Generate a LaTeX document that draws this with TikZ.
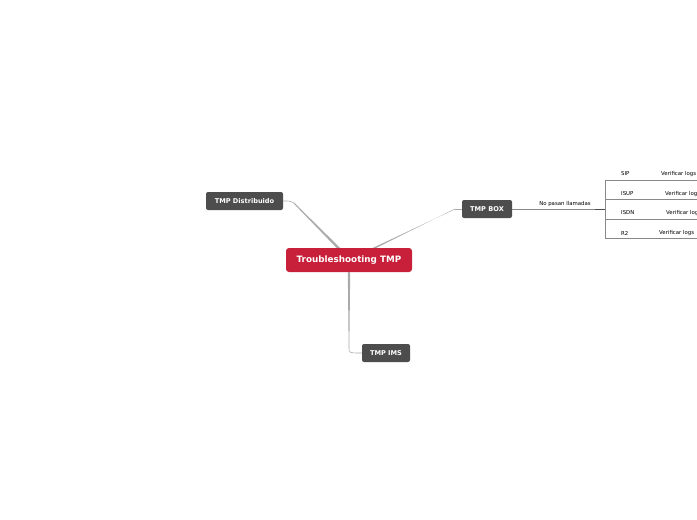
\documentclass[tikz,border=0pt]{standalone}
\usepackage{fontspec}
\setmainfont{DejaVu Sans}
\begin{document}
\begin{tikzpicture}[x=1pt,y=-1pt,
  topic/.style={fill=topicgray,text=white,rounded corners=2pt,inner sep=0pt,font=\fontsize{6.6}{7}\selectfont\bfseries,minimum height=18pt},
  root/.style={fill=rootred,text=white,rounded corners=3pt,inner sep=0pt,font=\fontsize{8.8}{9}\selectfont\bfseries,minimum height=24pt,minimum width=126pt},
  conn/.style={draw=linegray,line width=0.9pt},
  thinline/.style={draw=linegray!80!black,line width=0.5pt},
  small/.style={inner sep=0pt,font=\fontsize{5.4}{6}\selectfont,anchor=west,text=black}
]
\definecolor{topicgray}{HTML}{4D4D4D}
\definecolor{rootred}{HTML}{C8203A}
\definecolor{linegray}{HTML}{AAAAAA}
\useasboundingbox (0,0) rectangle (697,520);
\fill[white] (0,0) rectangle (697,520);

\node[root] (c) at (349,260) {\raisebox{-0.5pt}{Troubleshooting TMP}};
\node[topic,minimum width=77pt] (d) at (244.5,201) {TMP Distribuido};
\node[topic,minimum width=50pt] (b) at (487,209) {TMP BOX};
\node[topic,minimum width=48pt] (i) at (386,353) {TMP IMS};

% tapered main connectors
\fill[linegray] ([xshift=-12.5pt]c.north) -- (293.6,203.4) -- (294.3,202.8) -- ([xshift=-9pt]c.north) -- cycle;
\draw[conn,line width=0.6pt] (294,203) .. controls (290,201) .. (d.east);
\fill[linegray] ([xshift=24pt]c.north) -- (455,209.3) -- (455,208.7) -- ([xshift=27.5pt]c.north) -- cycle;
\draw[conn,line width=0.6pt] (455,209) .. controls (458,209) .. (b.west);
\fill[linegray] ([xshift=-1.2pt]c.south) -- (348.7,348) -- (349.3,348) -- ([xshift=1.2pt]c.south) -- cycle;
\draw[conn,line width=0.6pt] (349,348) .. controls (349,353) .. (i.west);

% No pasan llamadas
\coordinate (br) at (605,209);
\coordinate (bk) at (595,209);
\draw[thinline] (b.east) -- (bk);
\draw[draw=black!70,line width=1pt] (bk) -- (br);
\node[inner sep=0pt,font=\fontsize{5.4}{6}\selectfont] (np) at (565,204) {No pasan llamadas};

\coordinate (t1) at (605,180);
\coordinate (t2) at (605,199);
\coordinate (t3) at (605,219);
\coordinate (t4) at (605,238);
\coordinate (e1) at (697,180);
\coordinate (e2) at (697,199);
\coordinate (e3) at (697,219);
\coordinate (e4) at (697,238);
\draw[thinline] (t1) -- (t4);
\draw[thinline] (t1) -- (e1);
\draw[thinline] (t2) -- (e2);
\draw[thinline] (t3) -- (e3);
\draw[thinline] (t4) -- (e4);

\node[small] (s1) at (621,174) {SIP};
\node[small] (s2) at (621,194) {ISUP};
\node[small] (s3) at (621,213) {ISDN};
\node[small] (s4) at (621,233) {R2};
\node[small] (v1) at (661,174) {Verificar logs};
\node[small] (v2) at (665,194) {Verificar logs};
\node[small] (v3) at (666,213) {Verificar logs};
\node[small] (v4) at (659,233) {Verificar logs};
\end{tikzpicture}
\end{document}
